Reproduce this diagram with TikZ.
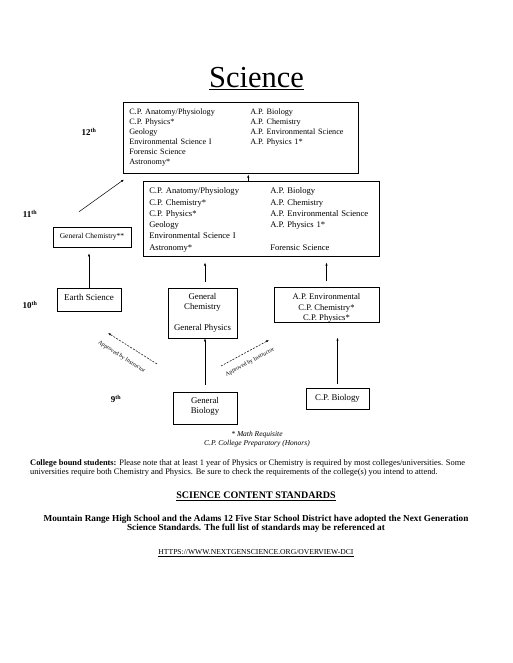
\documentclass[tikz,border=0pt]{standalone}
\usepackage{fontspec}
\setmainfont{Liberation Serif}
\usetikzlibrary{arrows.meta}
\usetikzlibrary{positioning}

\begin{document}
\begin{tikzpicture}[x=1pt,y=-1pt,
  box/.style={draw,line width=0.5pt,inner sep=0pt,align=center},
  grade/.style={font=\fontsize{9}{10}\selectfont\bfseries},
  arr/.style={-{Latex[length=3pt,width=2.2pt]},line width=0.5pt},
  appr/.style={arr,dash pattern=on 2pt off 1.3pt},
  note/.style={font=\fontsize{5.8}{6}\selectfont,sloped,inner sep=1pt}]
\useasboundingbox (0,0) rectangle (512,663);

\node (title) at (256.5,88)[anchor=base,font=\fontsize{30.5}{32}\selectfont]{\underline{Science}};

% grades
\node (l12) at (89,132)[grade]{12\textsuperscript{th}};
\node (l11) at (30,214)[grade]{11\textsuperscript{th}};
\node (l10) at (30,305)[grade]{10\textsuperscript{th}};
\node (l9) at (116,399)[grade]{9\textsuperscript{th}};

% course boxes
\node (g12) at (123,102)[box,anchor=north west,minimum width=235pt,minimum height=71pt,text width=223pt,align=left,text depth=53pt,font=\fontsize{8.2}{10}\selectfont]{%
  \begin{tabular}[t]{@{}p{121pt}@{}l@{}}
  C.P. Anatomy/Physiology & A.P. Biology\\
  C.P. Physics* & A.P. Chemistry\\
  Geology & A.P. Environmental Science\\
  Environmental Science I & A.P. Physics 1*\\
  Forensic Science & \\
  Astronomy* &
  \end{tabular}};
\node (g11) at (143,181)[box,anchor=north west,minimum width=236pt,minimum height=75pt,text width=224pt,align=left,text depth=58pt,font=\fontsize{8.6}{11.3}\selectfont]{%
  \begin{tabular}[t]{@{}p{121pt}@{}l@{}}
  C.P. Anatomy/Physiology & A.P. Biology\\
  C.P. Chemistry* & A.P. Chemistry\\
  C.P. Physics* & A.P. Environmental Science\\
  Geology & A.P. Physics 1*\\
  Environmental Science I & \\
  Astronomy* & Forensic Science
  \end{tabular}};
\node (gchem) at (92,237)[box,minimum width=78pt,minimum height=20pt,font=\fontsize{7.5}{9}\selectfont]{General Chemistry**};
\node (earth) at (89,299.5)[box,minimum width=64pt,minimum height=23pt,text height=6pt,text depth=5pt,font=\fontsize{9}{10}\selectfont]{Earth Science};
\node (gcp) at (202.5,313)[box,minimum width=69pt,minimum height=50pt,font=\fontsize{8.8}{10.5}\selectfont]{General\\Chemistry\\[10.5pt]General Physics};
\node (apenv) at (326.5,305)[box,minimum width=105pt,minimum height=34pt,text height=33pt,font=\fontsize{8.6}{10.5}\selectfont]{A.P. Environmental\\C.P. Chemistry*\\C.P. Physics*};
\node (gbio) at (205,408)[box,minimum width=64pt,minimum height=32pt,text depth=6pt,font=\fontsize{8.8}{10}\selectfont]{General\\Biology};
\node (cpbio) at (337.5,398.5)[box,minimum width=63pt,minimum height=21pt,font=\fontsize{8.8}{10}\selectfont]{C.P. Biology};

% arrows
\draw[arr]([xshift=-13pt]g11.north) -- ([xshift=-13pt,yshift=-1pt]g11.north |- g12.south);
\draw[arr]([shift={(-13pt,15pt)}]gchem.north) -- ([shift={(1pt,-6pt)}]g12.south west);
\draw[arr](earth.north) -- ([yshift=-6pt]earth.north |- gchem.south);
\draw[arr]([shift={(2.5pt,6pt)}]gcp.north) -- ([shift={(2.5pt,-6pt)}]gcp.north |- g11.south);
\draw[arr]([yshift=6pt]apenv.north) -- ([yshift=-6pt]apenv.north |- g11.south);
\draw[arr]([yshift=7pt]gbio.north) -- (gbio.north |- gcp.south);
\draw[arr]([yshift=4pt]cpbio.north) -- ([yshift=-15pt]cpbio.north |- apenv.south);

\coordinate (al1) at (157,364);
\coordinate (al2) at (108,333);
\coordinate (ar1) at (221,366);
\coordinate (ar2) at (269,340);
\draw[appr](al1) -- node[note,pos=0.58,below=9pt]{Approved by Instructor} (al2);
\draw[appr](ar1) -- node[note,midway,below=6.5pt]{Approved by Instructor} (ar2);

% notes and text
\node (foot) at (257,445.5)[anchor=base,align=center,font=\fontsize{7.5}{9}\selectfont\itshape]{* Math Requisite\\C.P. College Preparatory (Honors)};
\node (bound) at (30,474.5)[anchor=base west,align=left,inner sep=0pt,font=\fontsize{8.4}{9}\selectfont]{\textbf{College bound students:} Please note that at least 1 year of Physics or Chemistry is required by most colleges/universities.  Some\\universities require both Chemistry and Physics.  Be sure to check the requirements of the college(s) you intend to attend.};
\node (stdhead) at (256,498.5)[anchor=base,font=\fontsize{10}{12}\selectfont\bfseries]{\underline{SCIENCE CONTENT STANDARDS}};
\node (adopt) at (256,530)[anchor=base,align=center,font=\fontsize{9.2}{9}\selectfont\bfseries]{Mountain Range High School and the Adams 12 Five Star School District have adopted the Next Generation\\Science Standards.  The full list of standards may be referenced at};
\node (url) at (256,554.5)[anchor=base,font=\fontsize{7.6}{9}\selectfont]{\underline{HTTPS://WWW.NEXTGENSCIENCE.ORG/OVERVIEW-DCI}};
\end{tikzpicture}
\end{document}
